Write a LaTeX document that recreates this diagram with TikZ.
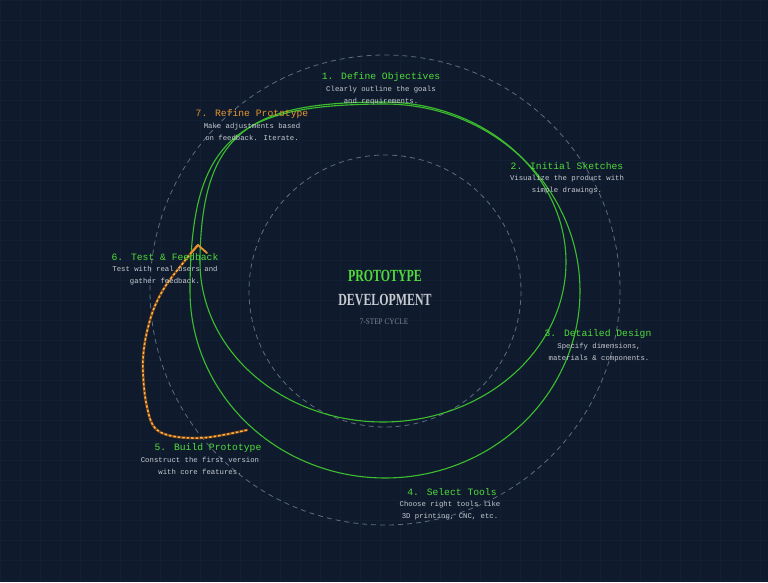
\documentclass[tikz,border=0pt]{standalone}
\usepackage{fontspec}
\newfontfamily\monof{Liberation Mono}
\newfontfamily\serifc{Liberation Serif}
\usetikzlibrary{arrows.meta}
\definecolor{bg}{HTML}{0F1B2D}
\definecolor{gridc}{HTML}{122035}
\definecolor{ringc}{HTML}{5E6B80}
\definecolor{loopg}{HTML}{3DBE2E}
\definecolor{titleg}{HTML}{4FDC3A}
\definecolor{desc}{HTML}{C8CCD2}
\definecolor{orng}{HTML}{E8952E}
\definecolor{orngb}{HTML}{FFB347}
\definecolor{orngd}{HTML}{7A4618}
\definecolor{subg}{HTML}{7D8797}
\begin{document}
\begin{tikzpicture}[x=1pt,y=-1pt,
  steptitle/.style={font=\monof\fontsize{9.7}{11}\selectfont, text=titleg, inner sep=0pt, anchor=center},
  stepdesc/.style={font=\monof\fontsize{7.3}{12}\selectfont, text=desc, inner sep=0pt, align=center, anchor=north},
  ring/.style={draw=ringc, line width=0.8pt, dash pattern=on 5pt off 4pt},
  loopline/.style={draw=loopg, line width=1.1pt},
  gridline/.style={draw=gridc, line width=0.4pt}
]
\fill[bg] (0,0) rectangle (768,582);
\useasboundingbox (0,0) rectangle (768,582);
\foreach \gx in {0,20,...,760} {\draw[gridline] (\gx,0) -- (\gx,582);}
\foreach \gy in {0,20,...,580} {\draw[gridline] (0,\gy) -- (768,\gy);}

% dashed rings
\draw[ring] (385,290) circle[radius=235];
\draw[ring] (385,291) circle[radius=136];

% green loops (ellipses bulged towards the upper left)
\draw[loopline] plot[domain=0:360, samples=181, variable=\t]
 ({383+183*cos(\t) - 14*(\t>90)*(\t<180)*(sin(2*(\t-90)))^2},
  {262-160*sin(\t) - 14*(\t>90)*(\t<180)*(sin(2*(\t-90)))^2}) -- cycle;
\draw[loopline] plot[domain=0:360, samples=181, variable=\t]
 ({385+195*cos(\t) - 17*(\t>90)*(\t<180)*(sin(2*(\t-90)))^2},
  {291-187*sin(\t) - 17*(\t>90)*(\t<180)*(sin(2*(\t-90)))^2}) -- cycle;

% orange dashed feedback arrow
\coordinate (fs) at (247,430);
\coordinate (ft) at (198,245);
\draw[orngd, line width=2.6pt, line cap=round] plot[smooth, tension=0.6] coordinates {
 (fs) (200,438) (160,432) (147,407) (143,360) (150,320) (163,290) (183,263) (ft)};
\draw[orngb, line width=1.5pt, dash pattern=on 2.5pt off 2pt] plot[smooth, tension=0.6] coordinates {
 (fs) (200,438) (160,432) (147,407) (143,360) (150,320) (163,290) (183,263) (ft)};
\draw[orng, line width=1.8pt, line cap=round, line join=round] (191,253) -- (ft) -- (207,253);

% center text
\node[inner sep=0pt, text=titleg, font=\serifc\bfseries\fontsize{17}{20}\selectfont] (c1) at (385,276) {\scalebox{0.7}[1]{PROTOTYPE}};
\node[inner sep=0pt, text=desc, font=\serifc\bfseries\fontsize{17}{20}\selectfont] (c2) at (385,300) {\scalebox{0.7}[1]{DEVELOPMENT}};
\node[inner sep=0pt, text=subg, font=\serifc\fontsize{8.5}{10}\selectfont] (c3) at (384,322) {\scalebox{0.85}[1]{7-STEP CYCLE}};

% step labels
\node[steptitle] (t1) at (381,77) {1. Define Objectives};
\node[stepdesc] (d1) at (381,86) {Clearly outline the goals\\and requirements.};

\node[steptitle] (t2) at (567,166) {2. Initial Sketches};
\node[stepdesc] (d2) at (567,175) {Visualize the product with\\simple drawings.};

\node[steptitle] (t3) at (598,334) {3. Detailed Design};
\node[stepdesc] (d3) at (599,343) {Specify dimensions,\\materials \& components.};

\node[steptitle] (t4) at (452,492) {4. Select Tools};
\node[stepdesc] (d4) at (450,501) {Choose right tools like\\3D printing, CNC, etc.};

\node[steptitle] (t5) at (208,448) {5. Build Prototype};
\node[stepdesc] (d5) at (200,457) {Construct the first version\\with core features.};

\node[steptitle] (t6) at (165,257) {6. Test \& Feedback};
\node[stepdesc] (d6) at (165,266) {Test with real users and\\gather feedback.};

\node[steptitle, text=orng] (t7) at (252,114) {7. Refine Prototype};
\node[stepdesc] (d7) at (252,123) {Make adjustments based\\on feedback. Iterate.};
\end{tikzpicture}
\end{document}
